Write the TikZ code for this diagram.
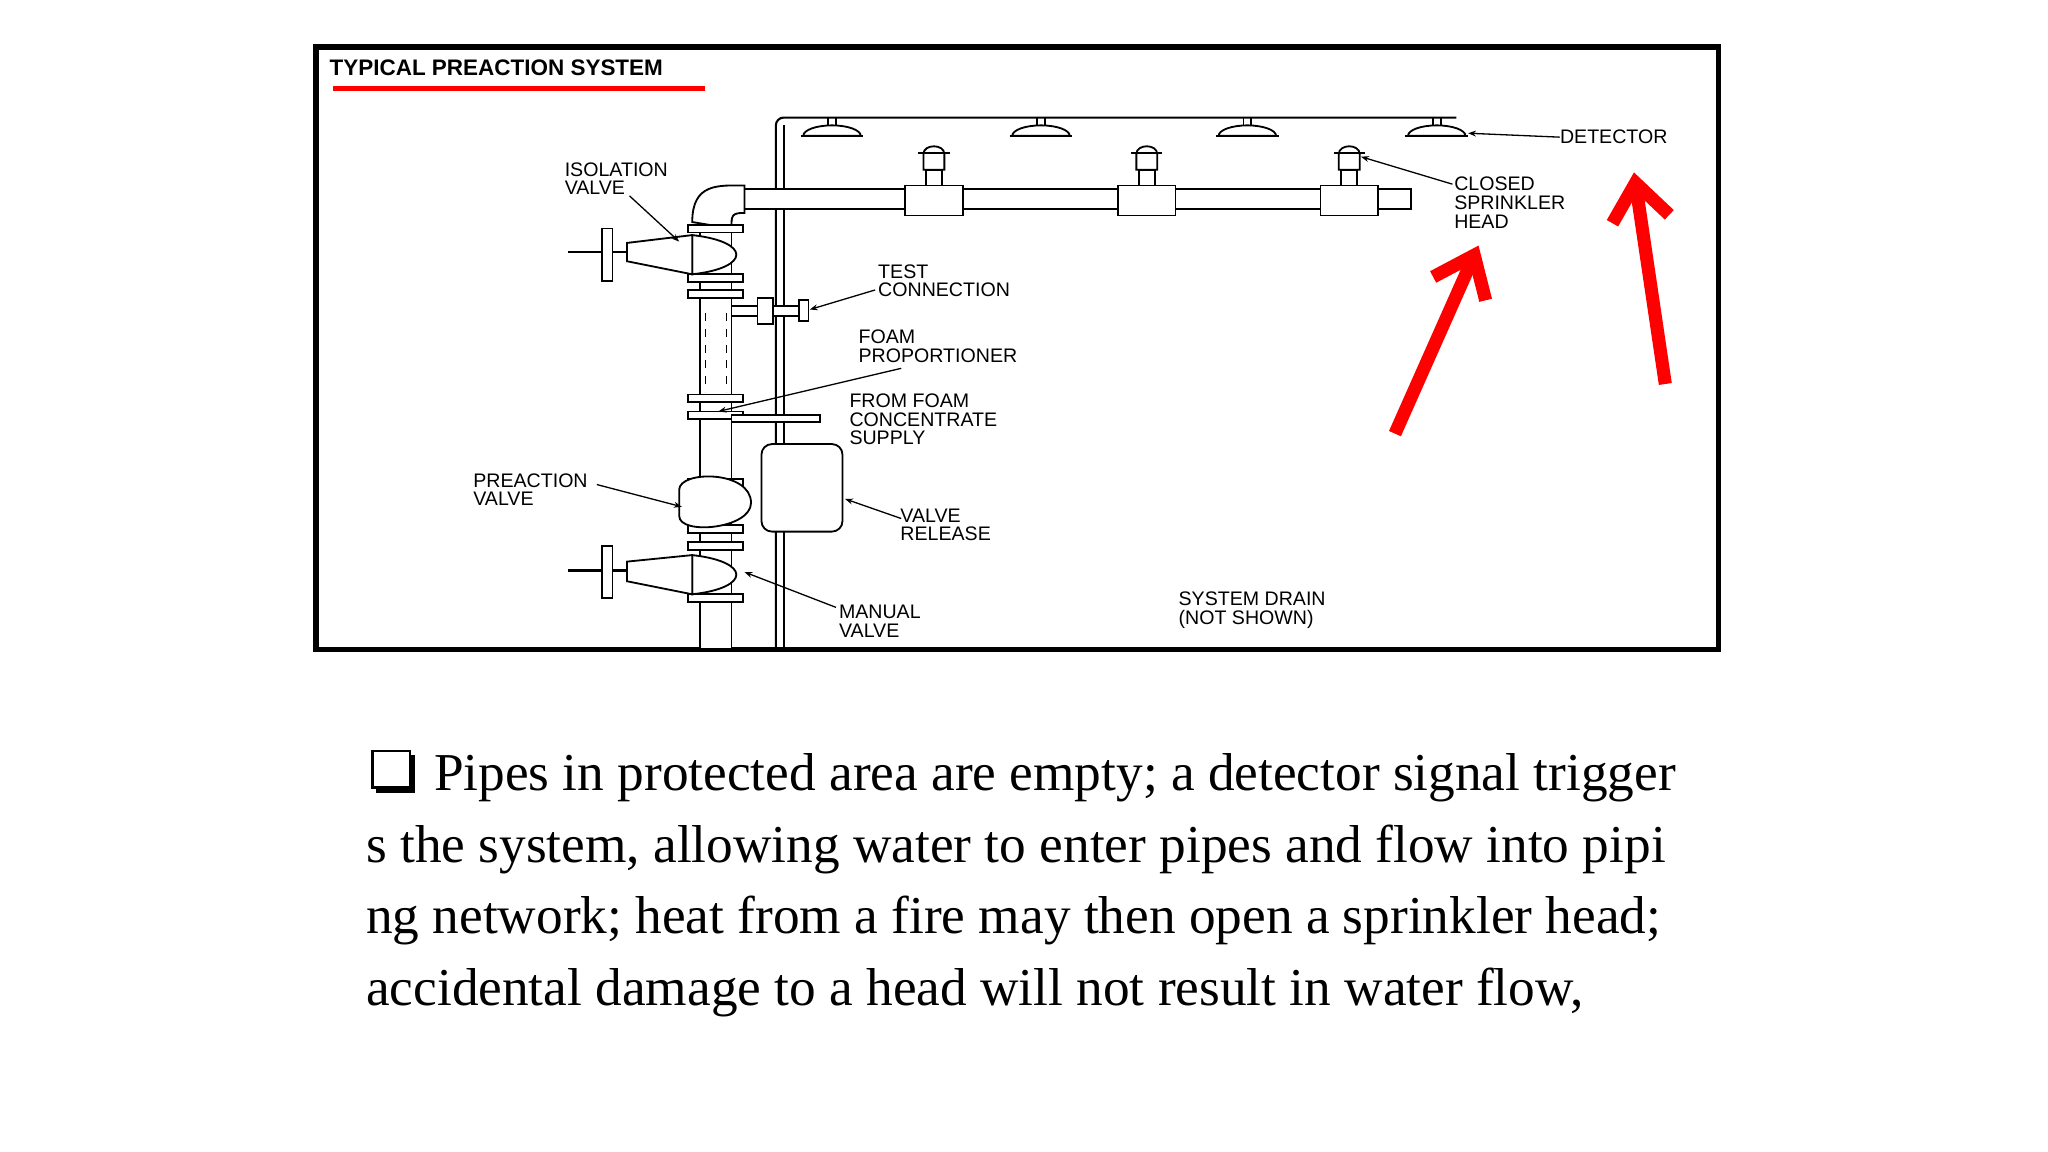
\documentclass[tikz,border=0pt]{standalone}
\usepackage{fontspec}
\setmainfont{Liberation Serif}
\newfontfamily\lab{Liberation Sans}
\usetikzlibrary{arrows.meta}
\tikzset{
 lbl/.style={font=\lab\fontsize{7.5}{7.2}\selectfont,align=left,anchor=north west,inner sep=0pt},
 lead/.style={line width=0.5pt,-{Stealth[length=3pt]}},
 pipe/.style={draw,line width=0.7pt,fill=white},
 redarrow/.style={red,line width=5pt,-{Straight Barb[length=14pt,width=22pt,line width=5pt]}},
 body/.style={anchor=base west,inner sep=0pt,font=\fontsize{20.4}{22}\selectfont}
}
\begin{document}
\begin{tikzpicture}[x=0.5pt,y=-0.5pt]
\useasboundingbox (0,0) rectangle (1568,882);
\fill[white] (0,0) rectangle (1568,882);
\draw[line width=2pt] (242,36) rectangle (1316,497);
\node[anchor=west,inner sep=0pt,font=\lab\bfseries\fontsize{8.6}{9}\selectfont] (title) at (252,52) {TYPICAL PREACTION SYSTEM};
\draw[red,line width=2pt] (255,68) -- (540,68);
% detector line
\draw[line width=0.8pt] (594,497) -- (594,96) arc (180:270:6) -- (1115,90);
\draw[line width=0.8pt] (600,497) -- (600,96);
\foreach \x/\n in {637/d1,797/d2,955/d3,1100/d4}{
 \draw[line width=0.7pt,fill=white] (\x-22,104) arc (180:360:22 and 8) -- cycle;
 \draw[line width=0.7pt] (\x-24,104) -- (\x+24,104);
 \coordinate (\n) at (\x+24,102);
 \draw[line width=0.7pt] (\x-3,90) -- (\x-3,96) (\x+3,90)--(\x+3,96);
}
% horizontal pipe
\draw[pipe] (560,145) rectangle (1080,160);
\foreach \x/\n in {715/s1,878/s2,1033/s3}{
 \draw[pipe] (\x-22,142) rectangle (\x+22,165);
 \draw[pipe] (\x-6,130) rectangle (\x+6,142);
 \draw[line width=0.7pt,fill=white] (\x-8,130) -- (\x-8,118) .. controls (\x-8,110) and (\x+8,110) .. (\x+8,118) -- (\x+8,130) -- cycle;
 \draw[line width=0.7pt] (\x-12,117)--(\x+12,117);
 \coordinate (\n) at (\x+9,120);
}
% riser
\draw[pipe] (536,170) rectangle (560,497);
\draw[pipe] (530,170) .. controls (530,140) and (550,142) .. (570,142) -- (570,163) .. controls (560,163) and (560,165) .. (560,175) -- cycle;
% flanges
\foreach \y in {175,213,225,305,318,370,405,418,458}{
 \draw[pipe] (527,\y-3) rectangle (569,\y+3);
}
% valve bodies
\draw[pipe] (530,180) .. controls (575,185) and (575,205) .. (530,210) -- cycle;
\draw[pipe] (520,375) .. controls (520,360) and (575,360) .. (575,385) .. controls (575,405) and (520,410) .. (520,395) -- cycle;
\draw[pipe] (530,425) .. controls (575,430) and (575,450) .. (530,455) -- cycle;
\draw[dashed,line width=0.5pt] (540,240) -- (540,300) (556,240)--(556,300);
% handwheels
\draw[pipe] (480,186) -- (530,180) -- (530,210) -- (480,200) -- cycle;
\draw[line width=1pt] (435,193) -- (480,193);
\draw[pipe] (461,175) rectangle (469,215);
\draw[pipe] (480,430) -- (530,425) -- (530,455) -- (480,445) -- cycle;
\draw[line width=1pt] (435,437) -- (480,437);
\draw[pipe] (461,418) rectangle (469,458);
% test connection
\draw[pipe] (560,234) rectangle (612,242);
\draw[pipe] (612,230) rectangle (619,246);
\draw[pipe] (580,228) rectangle (592,248);
% foam supply pipe
\draw[pipe] (560,318) rectangle (628,323);
% release box
\draw[pipe,rounded corners=4pt] (583,340) rectangle (645,407);
% labels
\node[lbl] (iv) at (432,124) {ISOLATION\\VALVE};
\node[lbl] (tc) at (672,202) {TEST\\CONNECTION};
\node[lbl] (fp) at (657,252) {FOAM\\PROPORTIONER};
\node[lbl] (ff) at (650,301) {FROM FOAM\\CONCENTRATE\\SUPPLY};
\node[lbl] (pv) at (362,362) {PREACTION\\VALVE};
\node[lbl] (vr) at (689,389) {VALVE\\RELEASE};
\node[lbl] (mv) at (642,463) {MANUAL\\VALVE};
\node[lbl] (sd) at (902,453) {SYSTEM DRAIN\\(NOT SHOWN)};
\node[lbl] (cs) at (1113,135) {CLOSED\\SPRINKLER\\HEAD};
\node[lbl,anchor=west] (det) at (1194,105) {DETECTOR};
\coordinate (ivt) at (520,185);
\coordinate (tct) at (620,237);
\coordinate (fpt) at (550,315);
\coordinate (pvt) at (522,388);
\coordinate (vrt) at (647,382);
\coordinate (mvt) at (570,438);
\draw[lead] (482,150) -- (ivt);
\draw[lead] (670,222) -- (tct);
\draw[lead] (690,282) -- (fpt);
\draw[lead] (457,371) -- (pvt);
\draw[lead] (690,397) -- (vrt);
\draw[lead] (640,465) -- (mvt);
\draw[lead] (1112,141) -- (s3);
\draw[lead] (det.west) -- (d4);
% red arrows
\coordinate (ra1) at (1068,332); \coordinate (ra1t) at (1132,188);
\coordinate (ra2) at (1275,294); \coordinate (ra2t) at (1251,132);
\draw[redarrow] (ra1) -- (ra1t);
\draw[redarrow] (ra2) -- (ra2t);
% body text
\draw[line width=1pt,fill=white] (285,575) rectangle (314,603);
\fill (288,603) rectangle (318,607); \fill (314,578) rectangle (318,607);
\node[body] (t1) at (332,605) {Pipes in protected area are empty; a detector signal trigger};
\node[body] (t2) at (280,660) {s the system, allowing water to enter pipes and flow into pipi};
\node[body] (t3) at (280,715) {ng network; heat from a fire may then open a sprinkler head;};
\node[body] (t4) at (280,770) {accidental damage to a head will not result in water flow,};
\end{tikzpicture}
\end{document}
